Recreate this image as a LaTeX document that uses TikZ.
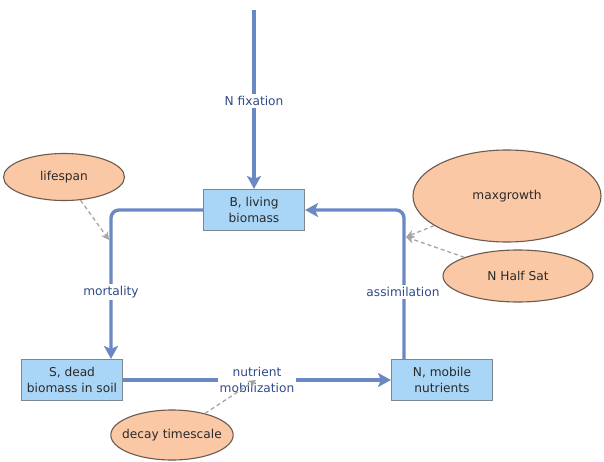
\documentclass[tikz,border=0pt]{standalone}
\usepackage{fontspec}
\setmainfont{DejaVu Sans}
\usetikzlibrary{arrows.meta,positioning,shapes.geometric}
\definecolor{Flow}{HTML}{6A88C4}
\definecolor{StockFill}{HTML}{A9D5F6}
\definecolor{StockLine}{HTML}{7C8790}
\definecolor{AuxFill}{HTML}{FAC8A4}
\definecolor{AuxLine}{HTML}{6A5A50}
\definecolor{FlowText}{HTML}{2F4C8A}
\definecolor{Ink}{HTML}{2A2A2A}
\definecolor{Link}{HTML}{A4A4A4}
\tikzset{
  flow/.style={draw=Flow,line width=3.4pt,-{Stealth[length=13pt,width=14pt,inset=3pt]}},
  ctl/.style={draw=Link,line width=1.3pt,dash pattern=on 4pt off 3pt,-{Stealth[length=8pt,width=8pt]}},
  stock/.style={rectangle,draw=StockLine,fill=StockFill,text=Ink,line width=1.1pt,minimum width=101pt,minimum height=41pt,inner sep=0pt,align=center,font=\fontsize{12.2}{16}\selectfont},
  aux/.style={ellipse,draw=AuxLine,fill=AuxFill,text=Ink,line width=1.1pt,inner sep=0pt,font=\fontsize{12.2}{15}\selectfont},
  fl/.style={fill=white,text=FlowText,align=center,inner sep=2pt,font=\fontsize{12.2}{16}\selectfont},
}
\begin{document}
\begin{tikzpicture}[x=1pt,y=-1pt]
\useasboundingbox (0,0) rectangle (604,462);
% -stocks-
\node[stock] (B) at (254,210) {B, living\\biomass};
\node[stock] (S) at (72,380) {S, dead\\biomass in soil};
\node[stock] (N) at (442,380) {N, mobile\\nutrients};
% -parameters-
\node[aux,minimum width=121pt,minimum height=47pt] (life) at (64,177) {lifespan};
\node[aux,minimum width=188pt,minimum height=92pt] (maxg) at (507,196) {maxgrowth};
\node[aux,minimum width=150pt,minimum height=52pt] (halfsat) at (518,276) {N Half Sat};
\node[aux,inner xsep=-6.5pt,minimum width=121pt,minimum height=50pt] (decay) at (172,435) {decay timescale};
% -flows-
\coordinate (src) at (254,10);
\coordinate (mc) at (111,210);
\coordinate (ac) at (404,210);
\draw[flow] (src) -- (B.north);
\draw[flow,rounded corners=8pt] (B.west) -- (mc) -- (mc |- S.north);
\draw[flow,rounded corners=8pt] (ac |- N.north) -- (ac) -- (B.east);
\draw[flow] (S.east) -- (N.west);
\node[fl] (fix) at (254,101) {N fixation};
\node[fl] (mort) at (111,292) {mortality};
\node[fl] (assim) at (403,292) {assimilation};
\node[fl] (mobil) at (257,380) {nutrient\\mobilization};
% -links-
\coordinate (mt) at (109,240);
\coordinate (at) at (406,237);
\coordinate (dt) at (256,380);
\draw[ctl] (life) -- (mt);
\draw[ctl] (maxg) -- (at);
\draw[ctl] (halfsat) -- (at);
\draw[ctl] (decay) -- (dt);
\end{tikzpicture}
\end{document}
